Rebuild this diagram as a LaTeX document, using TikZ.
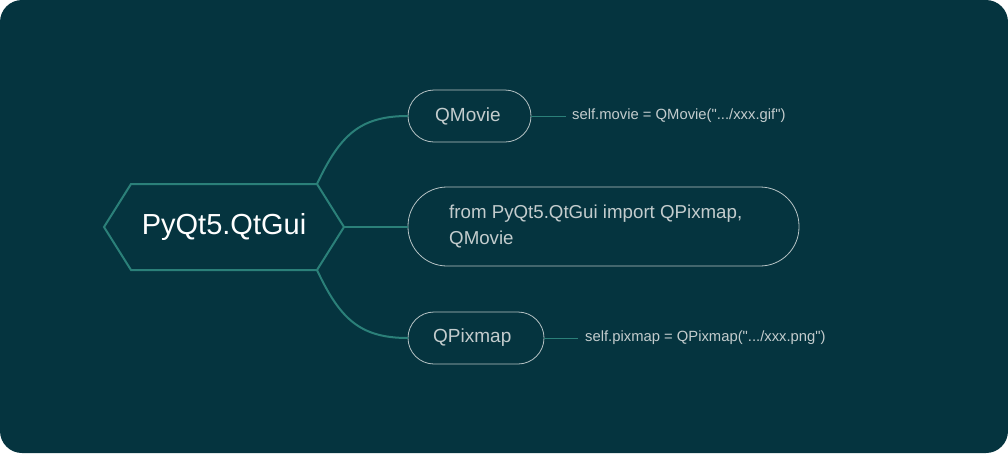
\documentclass[tikz,border=0pt]{standalone}
\usepackage{fontspec}
\setmainfont{Liberation Sans}
\usetikzlibrary{calc}
\definecolor{bg}{HTML}{05343F}
\definecolor{teal}{HTML}{2B8079}
\definecolor{bord}{HTML}{B5C2C4}
\definecolor{txt}{HTML}{C3CCCD}
\begin{document}
\begin{tikzpicture}[x=1pt,y=-1pt,
  pill/.style={draw=bord,line width=0.8pt,rounded corners=26pt},
  conn/.style={draw=teal,line width=2pt},
  thin/.style={draw=teal,line width=1pt},
  lbl/.style={text=txt,font=\fontsize{19}{23}\selectfont,inner sep=0,anchor=west},
  small/.style={text=txt,font=\fontsize{14.8}{17}\selectfont,inner sep=0,anchor=west}]
\useasboundingbox (0,0) rectangle (1008,453);
\fill[white] (0,0) rectangle (1008,453);
\fill[bg,rounded corners=22pt] (0,0) rectangle (1008,453);
\draw[conn,fill=bg] (104,227) -- (131,184) -- (317,184) -- (344,227) -- (317,270) -- (131,270) -- cycle;
\node[text=white,font=\fontsize{29}{34}\selectfont,inner sep=0] (root) at (224,227) {PyQt5.QtGui};
\coordinate (tr) at (317,184); \coordinate (rp) at (344,227); \coordinate (br) at (317,270);
\draw[pill] (408,90) rectangle (531,142);
\node[lbl] (qm) at (435,116) {QMovie};
\coordinate (qmL) at (408,116); \coordinate (qmR) at (531,116);
\draw[pill,rounded corners=39pt] (408,187) rectangle (799,266);
\node[lbl,align=left,anchor=north west,font=\fontsize{18.7}{26}\selectfont] (imp) at (449,205) {from PyQt5.QtGui import QPixmap,\\QMovie};
\coordinate (impL) at (408,227);
\draw[pill] (408,312) rectangle (544,364);
\node[lbl] (qp) at (433,338) {QPixmap};
\coordinate (qpL) at (408,338); \coordinate (qpR) at (544,338);
\draw[conn] (tr) .. controls (340,135) and (360,116) .. (qmL);
\draw[conn] (rp) -- (impL);
\draw[conn] (br) .. controls (340,319) and (360,338) .. (qpL);
\node[small] (sm) at (572,116) {self.movie = QMovie(\textquotedbl.../xxx.gif\textquotedbl)};
\node[small] (sp) at (585,338) {self.pixmap = QPixmap(\textquotedbl.../xxx.png\textquotedbl)};
\draw[thin] (qmR) -- ($(sm.west)+(-6,0)$);
\draw[thin] (qpR) -- ($(sp.west)+(-7,0)$);
\end{tikzpicture}
\end{document}
